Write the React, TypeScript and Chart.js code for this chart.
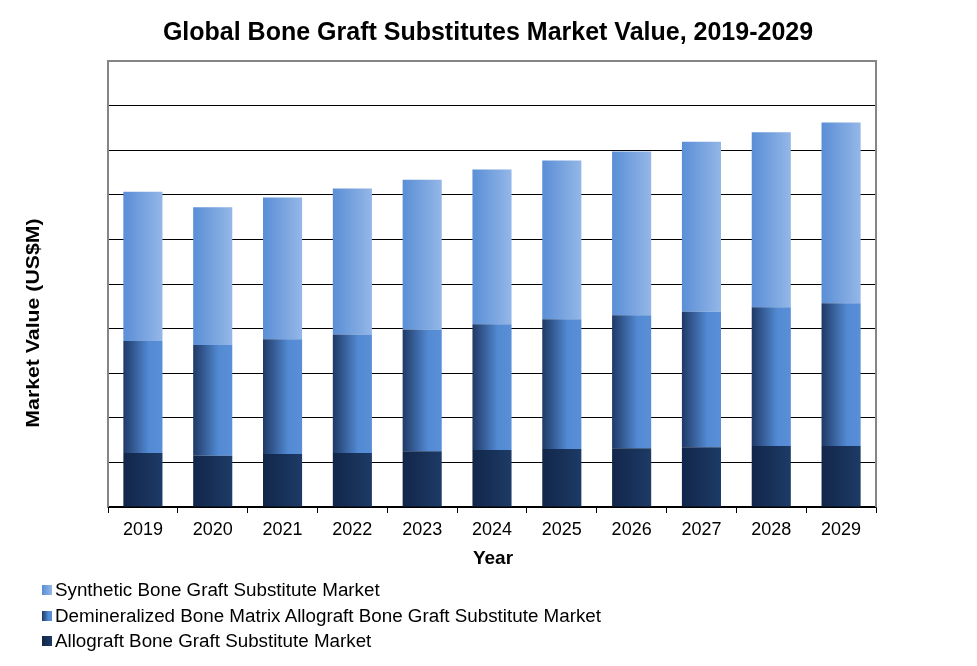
import { useEffect, useRef } from 'react';
import { Chart, ChartConfiguration, Plugin, registerables } from 'chart.js';

Chart.register(...registerables);

const years = ['2019', '2020', '2021', '2022', '2023', '2024', '2025', '2026', '2027', '2028', '2029'];

// values, in gridline units (the axis has no tick labels)
const allograft = [1.21, 1.15, 1.19, 1.21, 1.25, 1.28, 1.3, 1.32, 1.34, 1.37, 1.37];
const demineralized = [2.51, 2.48, 2.57, 2.66, 2.73, 2.82, 2.91, 2.98, 3.04, 3.11, 3.2];
const synthetic = [3.35, 3.09, 3.18, 3.27, 3.36, 3.47, 3.56, 3.67, 3.81, 3.92, 4.05];

const seriesNames = [
  'Allograft Bone Graft Substitute Market',
  'Demineralized Bone Matrix Allograft Bone Graft Substitute Market',
  'Synthetic Bone Graft Substitute Market',
];

const TITLE = 'Global Bone Graft Substitutes Market Value, 2019-2029';
const Y_TITLE = 'Market Value (US$M)';
const X_TITLE = 'Year';
const FONT = '"Liberation Sans", Arial, Helvetica, sans-serif';

// gradient stops per series, left edge to right edge of each bar
const stops: [number, string][][] = [
  [[0, '#12264a'], [1, '#1d3b66']],
  [[0, '#1f3966'], [0.65, '#528ad3'], [1, '#5a8fd7']],
  [[0, '#5a8ed6'], [1, '#94b7e7']],
];

const BAR_PCT = 0.56;

const cssGradient = (s: [number, string][]) =>
  `linear-gradient(to right, ${s.map(([p, c]) => `${c} ${p * 100}%`).join(', ')})`;

const barFill = (series: number) => (ctx: any) => {
  const chart = ctx.chart;
  const area = chart.chartArea;
  const xs = chart.scales.x;
  if (!area || !xs || ctx.dataIndex === undefined) return stops[series][0][1];
  const cx = xs.getPixelForValue(ctx.dataIndex);
  const w = (area.width / years.length) * BAR_PCT;
  const g = chart.ctx.createLinearGradient(cx - w / 2, 0, cx + w / 2, 0);
  stops[series].forEach(([p, c]) => g.addColorStop(p, c));
  return g;
};

const textsPlugin: Plugin<'bar'> = {
  id: 'texts',
  afterDraw(chart) {
    const { ctx, chartArea: a } = chart;
    ctx.save();
    // grey frame on left, top and right
    ctx.strokeStyle = '#858585';
    ctx.lineWidth = 2;
    ctx.beginPath();
    ctx.moveTo(a.left, a.bottom);
    ctx.lineTo(a.left, a.top);
    ctx.lineTo(a.right, a.top);
    ctx.lineTo(a.right, a.bottom);
    ctx.stroke();

    ctx.fillStyle = '#000';
    ctx.textAlign = 'center';
    ctx.textBaseline = 'alphabetic';
    ctx.font = `bold 25px ${FONT}`;
    ctx.fillText(TITLE, 488, 40);

    ctx.font = `bold 19px ${FONT}`;
    ctx.fillText(X_TITLE, 493, 564);

    // the y title is drawn a bit stretched along its length, as in the original
    ctx.translate(39, 323);
    ctx.rotate(-Math.PI / 2);
    ctx.scale(1.12, 1);
    ctx.fillText(Y_TITLE, 0, 0);
    ctx.restore();
  },
};

const config: ChartConfiguration<'bar'> = {
  type: 'bar',
  data: {
    labels: years,
    datasets: [allograft, demineralized, synthetic].map((d, i) => ({
      label: seriesNames[i],
      data: d,
      backgroundColor: barFill(i),
      borderWidth: 0,
      categoryPercentage: 1,
      barPercentage: BAR_PCT,
    })),
  },
  options: {
    animation: false,
    responsive: true,
    maintainAspectRatio: false,
    layout: { padding: { top: 61, left: 108, right: 101, bottom: 0 } },
    plugins: {
      legend: { display: false },
      title: { display: false },
      tooltip: { enabled: false },
    },
    scales: {
      x: {
        stacked: true,
        afterFit: (s) => {
          s.height = 159;
        },
        grid: {
          display: true,
          drawOnChartArea: false,
          drawTicks: true,
          tickLength: 6,
          color: '#000',
          lineWidth: 1,
        },
        border: { display: true, color: '#000', width: 1.5 },
        ticks: {
          color: '#000',
          padding: 6,
          font: { family: FONT, size: 18 },
          maxRotation: 0,
        },
      },
      y: {
        stacked: true,
        min: 0,
        max: 10,
        afterFit: (s) => {
          s.width = 0;
        },
        ticks: { display: false, stepSize: 1 },
        grid: {
          drawTicks: false,
          color: (c) => (c.tick && c.tick.value === 10 ? 'rgba(0,0,0,0)' : '#000'),
          lineWidth: 1,
        },
        border: { display: false },
      },
    },
  },
  plugins: [textsPlugin],
};

const legendRows = [2, 1, 0];

export default function App() {
  const canvasRef = useRef<HTMLCanvasElement>(null);

  useEffect(() => {
    const chart = new Chart(canvasRef.current as HTMLCanvasElement, config);
    return () => {
      chart.destroy();
    };
  }, []);

  return (
    <div style={{ position: 'absolute', left: 0, top: 0, width: 977, height: 666, background: '#fff' }}>
      <canvas ref={canvasRef} />
      {legendRows.map((s, i) => (
        <div
          key={s}
          style={{
            position: 'absolute',
            left: 42,
            top: 579 + i * 25.5,
            height: 22,
            display: 'flex',
            alignItems: 'center',
            fontFamily: FONT,
            fontSize: 18.8,
            color: '#000',
            whiteSpace: 'nowrap',
          }}
        >
          <span
            style={{ width: 10, height: 10, marginRight: 3, background: cssGradient(stops[s]), display: 'inline-block' }}
          />
          {seriesNames[s]}
        </div>
      ))}
    </div>
  );
}
